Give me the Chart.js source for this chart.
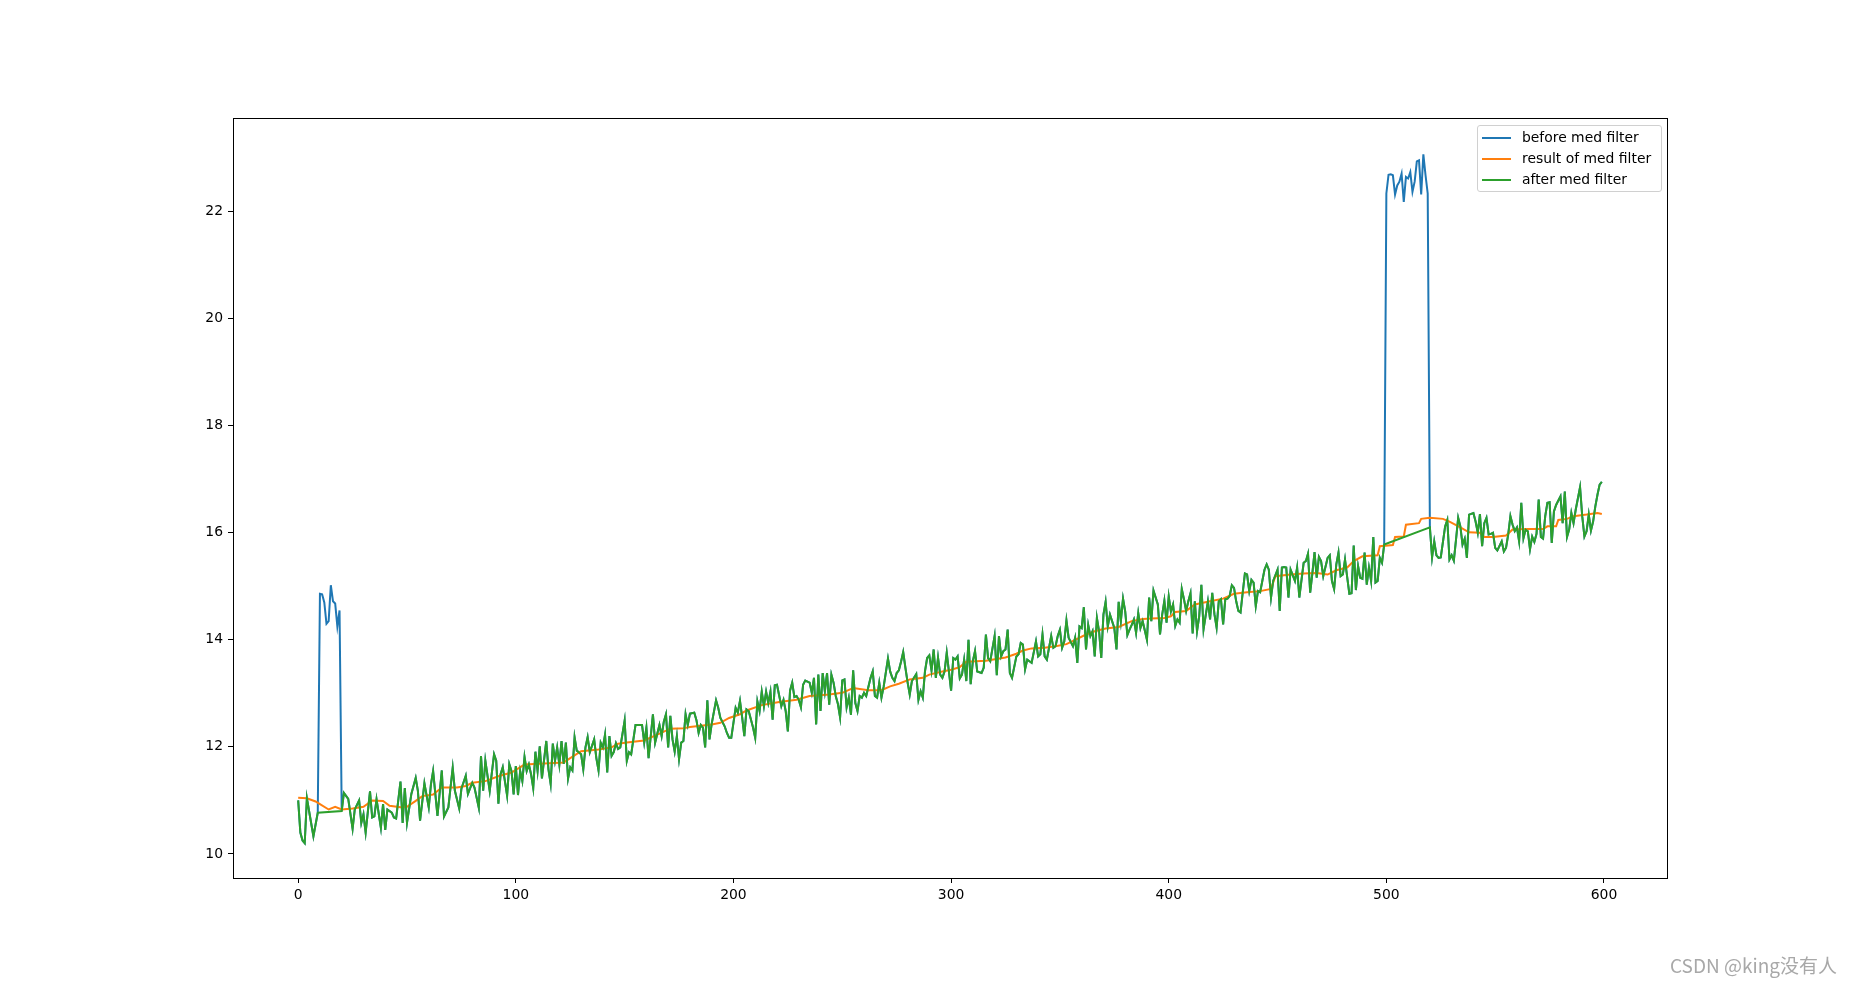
<!DOCTYPE html>
<html>
<head>
<meta charset="utf-8">
<script src="https://cdn.jsdelivr.net/npm/chart.js@4.4.1/dist/chart.umd.min.js"></script>
<style>
  body { margin: 0; background: #fff; }
  #wrap { position: relative; width: 1853px; height: 986px; }
  #legend {
    position: absolute; left: 1477px; top: 125px; width: 183px; height: 65px;
    border: 1px solid #d0d0d0; border-radius: 3px; background: rgba(255,255,255,0.8);
    font-family: "DejaVu Sans", sans-serif; font-size: 13.9px; color: #000;
  }
  .row { position: absolute; left: 0; height: 21px; line-height: 21px; white-space: nowrap; }
  .row span.ln { position: absolute; left: 4px; top: 10px; width: 29px; height: 2px; }
  .row span.tx { position: absolute; left: 44px; top: 0; }
  #mark {
    position: absolute; left: 1670px; top: 951px;
    font-family: "Noto Sans CJK SC", "Noto Sans", sans-serif; font-size: 19px; color: #a8a8a8;
  }
</style>
</head>
<body>
<div id="wrap">
  <canvas id="grafico" width="1853" height="986"></canvas>
  <div id="legend"></div>
  <div id="mark">CSDN @king没有人</div>
</div>
<script>
// series names / colours
const seriesNames = ['before med filter', 'result of med filter', 'after med filter'];
const seriesColors = ['#1f77b4', '#ff7f0e', '#2ca02c'];

// tick labels
const xTicks = [0, 100, 200, 300, 400, 500, 600];
const yTicks = [10, 12, 14, 16, 18, 20, 22];

// after med filter: [index, value] (spike samples removed)
const afterFilter = [
  [0,11.0],[1,10.4],[2,10.25],[3,10.2],[4,11.04],[7,10.33],[9,10.77],[20,10.8],[21,11.14],[23,11.03],
  [25,10.47],[26,10.83],[28,11.0],[29,10.58],[30,10.74],[31,10.4],[33,11.17],[34,10.68],[35,10.7],[36,11.02],
  [38,10.49],[39,10.93],[40,10.45],[41,10.83],[43,10.77],[44,10.68],[45,10.66],[47,11.35],[48,10.58],[49,11.23],
  [50,10.58],[52,11.12],[54,11.42],[55,11.18],[56,10.62],[58,11.32],[60,10.87],[61,11.3],[62,11.55],[64,10.71],
  [66,11.56],[67,10.7],[69,10.87],[71,11.61],[72,11.18],[74,10.85],[75,11.22],[77,11.46],[78,11.12],[80,11.33],
  [81,11.24],[83,10.86],[84,11.83],[85,11.18],[86,11.74],[88,11.18],[90,11.86],[91,11.74],[92,10.94],[93,11.49],
  [94,11.62],[96,11.09],[97,11.68],
  [98,11.55],[99,11.11],[100,11.64],[101,11.1],[102,11.55],[103,11.36],[104,11.81],[105,11.55],[106,11.67],[107,11.49],
  [108,11.23],[109,11.91],[110,11.55],[111,12.01],[112,11.41],[114,12.11],[115,11.58],[116,11.31],[117,12.06],[118,11.74],
  [119,11.99],[120,11.67],[121,12.11],[122,11.68],[123,12.08],[124,11.41],[125,11.62],[126,11.56],[127,12.18],[128,11.93],
  [130,11.86],[131,11.58],[132,11.99],[133,12.18],[134,11.9],[136,12.14],[137,11.79],[138,11.56],[139,12.08],[140,11.99],
  [141,12.23],[142,11.52],[143,12.2],[144,11.83],[145,11.9],[146,12.07],[147,11.96],[148,11.99],[150,12.49],[151,11.74],
  [152,11.9],[153,11.86],[155,12.41],[157,12.41],[158,12.41],[159,12.08],[160,12.36],[161,11.79],[163,12.61],[164,12.08],
  [166,12.41],[167,12.2],[168,12.47],[169,12.61],[170,11.99],[171,12.58],[172,12.14],[173,11.91],[174,12.2],[175,11.77],
  [176,12.08],[177,12.11],[178,12.61],[179,12.41],[180,12.62],[182,12.64],[183,12.5],[184,12.26],[185,12.41],[186,12.36],
  [187,11.99],[188,12.87],[189,12.14],[190,12.43],[192,12.87],[193,12.73],[194,12.54],[196,12.38],[197,12.26],[198,12.17],
  [199,12.17],[201,12.73],[202,12.64],[203,12.86],
  [204,12.55],[205,12.2],[206,12.7],[207,12.67],[209,12.36],[210,12.17],[211,12.85],[212,12.67],[213,13.03],[214,12.76],
  [215,13.03],[216,12.82],[217,13.03],[218,12.51],[219,13.15],[220,13.16],[222,12.76],[223,12.88],[224,12.67],[225,12.29],
  [226,13.05],[227,13.2],[228,12.93],[229,12.95],[230,12.88],[231,12.74],[232,13.16],[233,13.24],[235,13.2],[236,13.01],
  [237,13.29],[238,12.42],[239,13.35],[240,12.67],[241,13.38],[242,13.04],[243,13.38],[244,12.79],[245,13.35],[246,13.2],
  [247,12.95],[248,12.8],[249,12.55],[250,13.24],[251,13.26],[252,12.74],[253,12.92],[254,12.6],[255,13.43],[256,12.82],
  [257,12.67],[258,12.95],[259,12.92],[260,13.01],[261,12.95],[263,13.29],[264,13.41],[265,12.95],[266,12.92],[267,13.2],
  [268,12.92],[269,13.12],[271,13.65],[272,13.41],[273,13.29],[274,13.23],[275,13.38],[276,13.43],[277,13.59],[278,13.77],
  [279,13.48],[280,13.21],[281,12.98],[282,13.23],[284,13.36],[285,12.88],[286,13.04],[287,12.92],[288,13.41],[289,13.66],
  [290,13.71],[291,13.43],[292,13.82],[293,13.29],[294,13.67],[295,13.35],[296,13.29],[297,13.41],[298,13.76],[299,13.41],
  [300,13.05],
  [301,13.66],[302,13.63],[303,13.69],[304,13.28],[305,13.35],[306,13.63],[307,13.23],[308,14.0],[309,13.17],[310,13.6],
  [311,13.79],[312,13.41],[314,13.38],[315,13.48],[316,14.1],[317,13.66],[318,13.6],[320,14.07],[321,13.34],[322,14.07],
  [323,13.69],[324,13.79],[325,13.82],[326,14.19],[327,13.38],[328,13.29],[330,13.69],[331,13.73],[332,13.94],[333,13.91],
  [334,13.45],[335,13.63],[336,13.6],[337,13.57],[339,13.97],[340,13.69],[341,13.73],[342,14.1],[343,13.69],[344,13.63],
  [346,14.07],[347,13.85],[348,13.88],[349,14.07],[350,14.19],[351,13.85],[352,13.97],[353,14.36],[354,14.04],[356,13.88],
  [357,14.04],[358,13.57],[359,14.25],[360,14.22],[361,14.61],[362,13.82],[363,14.28],[364,14.07],[365,14.16],[366,13.69],
  [367,14.41],[368,14.16],[369,13.66],[370,14.47],[371,14.71],[372,14.25],[373,14.47],[375,14.22],[376,13.82],[377,14.71],
  [378,14.35],[379,14.77],[380,14.53],[381,14.09],[382,14.19],[383,14.28],[384,14.38],[385,14.13],[386,14.5],[387,14.22],
  [388,14.35],[390,14.0],[391,14.79],[392,14.35],[393,14.92],[395,14.66],[396,14.1],[397,14.47],[398,14.73],[399,14.32],
  [400,14.81],[401,14.53],[402,14.66],
  [403,14.26],[404,14.38],[405,14.32],[406,14.95],[407,14.76],[408,14.54],[409,14.72],[410,14.87],[411,14.12],[412,14.72],
  [413,14.16],[414,14.44],[415,15.03],[416,14.2],[418,14.72],[419,14.38],[420,14.88],[421,14.48],[422,14.23],[423,14.72],
  [424,14.76],[425,14.29],[426,14.76],[427,14.77],[428,14.82],[429,15.02],[430,14.97],[431,14.72],[432,14.54],[433,14.51],
  [434,14.88],[435,15.24],[436,15.22],[437,14.91],[438,15.12],[439,15.07],[440,14.63],[441,14.91],[442,14.89],[443,15.1],
  [444,15.31],[445,15.41],[446,15.31],[447,14.79],[448,15.1],[450,15.31],[451,14.54],[452,15.35],[453,15.36],[454,15.35],
  [455,14.79],[456,15.31],[458,15.1],[459,15.35],[460,14.79],[462,15.44],[463,15.47],[464,15.61],[465,14.88],[466,15.24],
  [467,15.64],[468,15.16],[469,15.55],[470,15.47],[471,15.19],[473,15.53],[474,15.58],[475,15.1],[476,14.95],[477,15.41],
  [478,15.63],[479,15.19],[480,15.22],[481,15.5],[482,15.17],[483,14.86],[484,14.87],[485,15.76],[486,14.93],[487,15.38],
  [488,15.16],[489,15.14],[490,15.63],[491,15.03],[492,15.35],[493,15.1],[494,15.92],[495,15.07],[496,15.1],[497,15.53],
  [498,15.44],[499,15.78],
  [520,16.1],[521,15.54],[522,15.84],[523,15.58],[524,15.53],[525,15.54],[527,16.12],[528,16.24],[529,15.5],[530,15.58],
  [531,15.48],[532,15.87],[533,16.28],[534,16.12],[535,15.78],[536,15.89],[537,15.53],[538,16.34],[540,16.37],[541,16.21],
  [542,16.0],[543,16.35],[544,15.75],[545,16.18],[546,16.28],[547,15.97],[548,15.98],[549,16.0],[550,15.72],[551,15.67],
  [553,15.84],[554,15.65],[555,15.72],[556,15.97],[557,16.31],[558,16.15],[559,16.03],[560,16.1],[561,15.84],[562,16.56],
  [563,15.9],[564,16.06],[565,16.03],[566,15.69],[567,15.93],[568,15.83],[569,15.98],[570,16.62],[571,15.92],[572,15.89],
  [573,16.31],[574,16.56],[575,16.57],[576,15.81],[577,16.4],[578,16.52],[580,16.68],[581,16.18],[582,16.77],[583,15.92],
  [584,16.06],[585,16.37],[586,16.18],[587,16.43],[589,16.85],[590,16.31],[591,15.93],[592,16.03],[593,16.34],[594,16.04],
  [595,16.21],[596,16.49],[597,16.71],[598,16.9],[599,16.95]
];

// the samples the filter threw out (only in "before")
const spikes = [
  [10,14.86],[11,14.85],[12,14.7],[13,14.3],[14,14.35],[15,15.02],[16,14.72],[17,14.68],[18,14.25],[19,14.55],
  [500,22.34],[501,22.69],[502,22.7],[503,22.68],[504,22.32],[505,22.49],[506,22.56],[507,22.71],[508,22.18],[509,22.65],
  [510,22.62],[511,22.74],[512,22.37],[513,22.56],[514,22.94],[515,22.96],[516,22.32],[517,23.07],[518,22.68],[519,22.34]
];

// result of med filter
const medResult = [
  [0,11.05],[4,11.04],[8,10.98],[10,10.93],[14,10.83],[17,10.88],[20,10.83],[25,10.85],[30,10.88],[34,11.0],
  [39,10.99],[42,10.9],[47,10.87],[50,10.88],[54,10.99],[57,11.08],[62,11.11],[66,11.24],[73,11.24],[77,11.27],
  [80,11.33],[86,11.36],[92,11.45],[98,11.52],[104,11.67],[113,11.69],[122,11.71],[125,11.79],[130,11.92],[138,11.95],
  [144,11.99],[147,12.06],[151,12.08],[159,12.12],[165,12.23],[171,12.34],[177,12.35],[180,12.37],[190,12.42],[194,12.45],
  [198,12.54],[203,12.61],[206,12.68],[213,12.78],[221,12.84],[229,12.88],[235,12.95],[244,12.98],[250,13.01],[255,13.1],
  [262,13.06],[268,13.06],[272,13.13],[276,13.18],[281,13.26],[287,13.29],[290,13.35],[296,13.41],[300,13.44],[304,13.49],
  [307,13.59],[316,13.61],[325,13.67],[330,13.74],[333,13.8],[337,13.84],[343,13.85],[348,13.88],[353,13.92],[357,14.0],
  [362,14.1],[366,14.16],[371,14.21],[377,14.24],[383,14.35],[388,14.39],[392,14.4],[398,14.41],[401,14.44],[403,14.52],
  [408,14.54],[412,14.66],[419,14.72],[425,14.77],[430,14.86],[436,14.89],[442,14.91],[447,14.95],[449,15.19],[456,15.22],
  [462,15.24],[468,15.25],[473,15.22],[477,15.3],[482,15.35],[485,15.47],[489,15.56],[496,15.58],[497,15.75],[503,15.77],
  [504,15.92],[508,15.93],[509,16.15],[515,16.18],[516,16.26],[520,16.28],[526,16.26],[529,16.21],[534,16.1],[538,16.01],
  [543,16.0],[545,15.92],[549,15.92],[555,15.95],[558,16.06],[565,16.07],[572,16.07],[574,16.12],[578,16.12],[579,16.24],
  [583,16.26],[586,16.31],[592,16.34],[597,16.37],[599,16.35]
];

const toXY = arr => arr.map(([x, y]) => ({ x, y }));
const beforeFilter = afterFilter.concat(spikes).sort((a, b) => a[0] - b[0]);

// legenda (matplotlib style, upper right)
const legendBox = document.getElementById('legend');
seriesNames.forEach((name, i) => {
  const row = document.createElement('div');
  row.className = 'row';
  row.style.top = (1 + i * 21) + 'px';
  row.innerHTML = `<span class="ln" style="background:${seriesColors[i]}"></span><span class="tx">${name}</span>`;
  legendBox.appendChild(row);
});

// moldura completa do eixo
const framePlugin = {
  id: 'frame',
  afterDraw(chart) {
    const { ctx, chartArea: a } = chart;
    ctx.save();
    ctx.strokeStyle = '#000';
    ctx.lineWidth = 1;
    ctx.strokeRect(Math.round(a.left) + 0.5, Math.round(a.top) + 0.5,
      Math.round(a.right - a.left), Math.round(a.bottom - a.top));
    ctx.restore();
  }
};

const tickFont = { family: 'DejaVu Sans', size: 13.9 };

new Chart(document.getElementById('grafico'), {
  type: 'line',
  data: {
    datasets: [
      { label: seriesNames[0], data: toXY(beforeFilter), borderColor: seriesColors[0], order: 3 },
      { label: seriesNames[1], data: toXY(medResult), borderColor: seriesColors[1], order: 2 },
      { label: seriesNames[2], data: toXY(afterFilter), borderColor: seriesColors[2], order: 1 }
    ]
  },
  options: {
    responsive: false,
    animation: false,
    devicePixelRatio: 1,
    layout: { padding: { left: 0, top: 118, right: 186, bottom: 0 } },
    elements: {
      point: { radius: 0 },
      line: { borderWidth: 2, tension: 0, fill: false }
    },
    plugins: {
      legend: { display: false },
      tooltip: { enabled: false }
    },
    scales: {
      x: {
        type: 'linear',
        min: -29.95,
        max: 628.95,
        afterBuildTicks: s => { s.ticks = xTicks.map(v => ({ value: v })); },
        afterFit: s => { s.height = 108; },
        grid: { drawOnChartArea: false, drawTicks: true, tickLength: 5, color: '#000' },
        border: { display: true, color: '#000', width: 1 },
        ticks: { color: '#000', font: tickFont, padding: 4, maxRotation: 0 }
      },
      y: {
        type: 'linear',
        min: 9.55,
        max: 23.75,
        afterBuildTicks: s => { s.ticks = yTicks.map(v => ({ value: v })); },
        afterFit: s => { s.width = 233; },
        grid: { drawOnChartArea: false, drawTicks: true, tickLength: 5, color: '#000' },
        border: { display: true, color: '#000', width: 1 },
        ticks: { color: '#000', font: tickFont, padding: 5 }
      }
    }
  },
  plugins: [framePlugin]
});
</script>
</body>
</html>
